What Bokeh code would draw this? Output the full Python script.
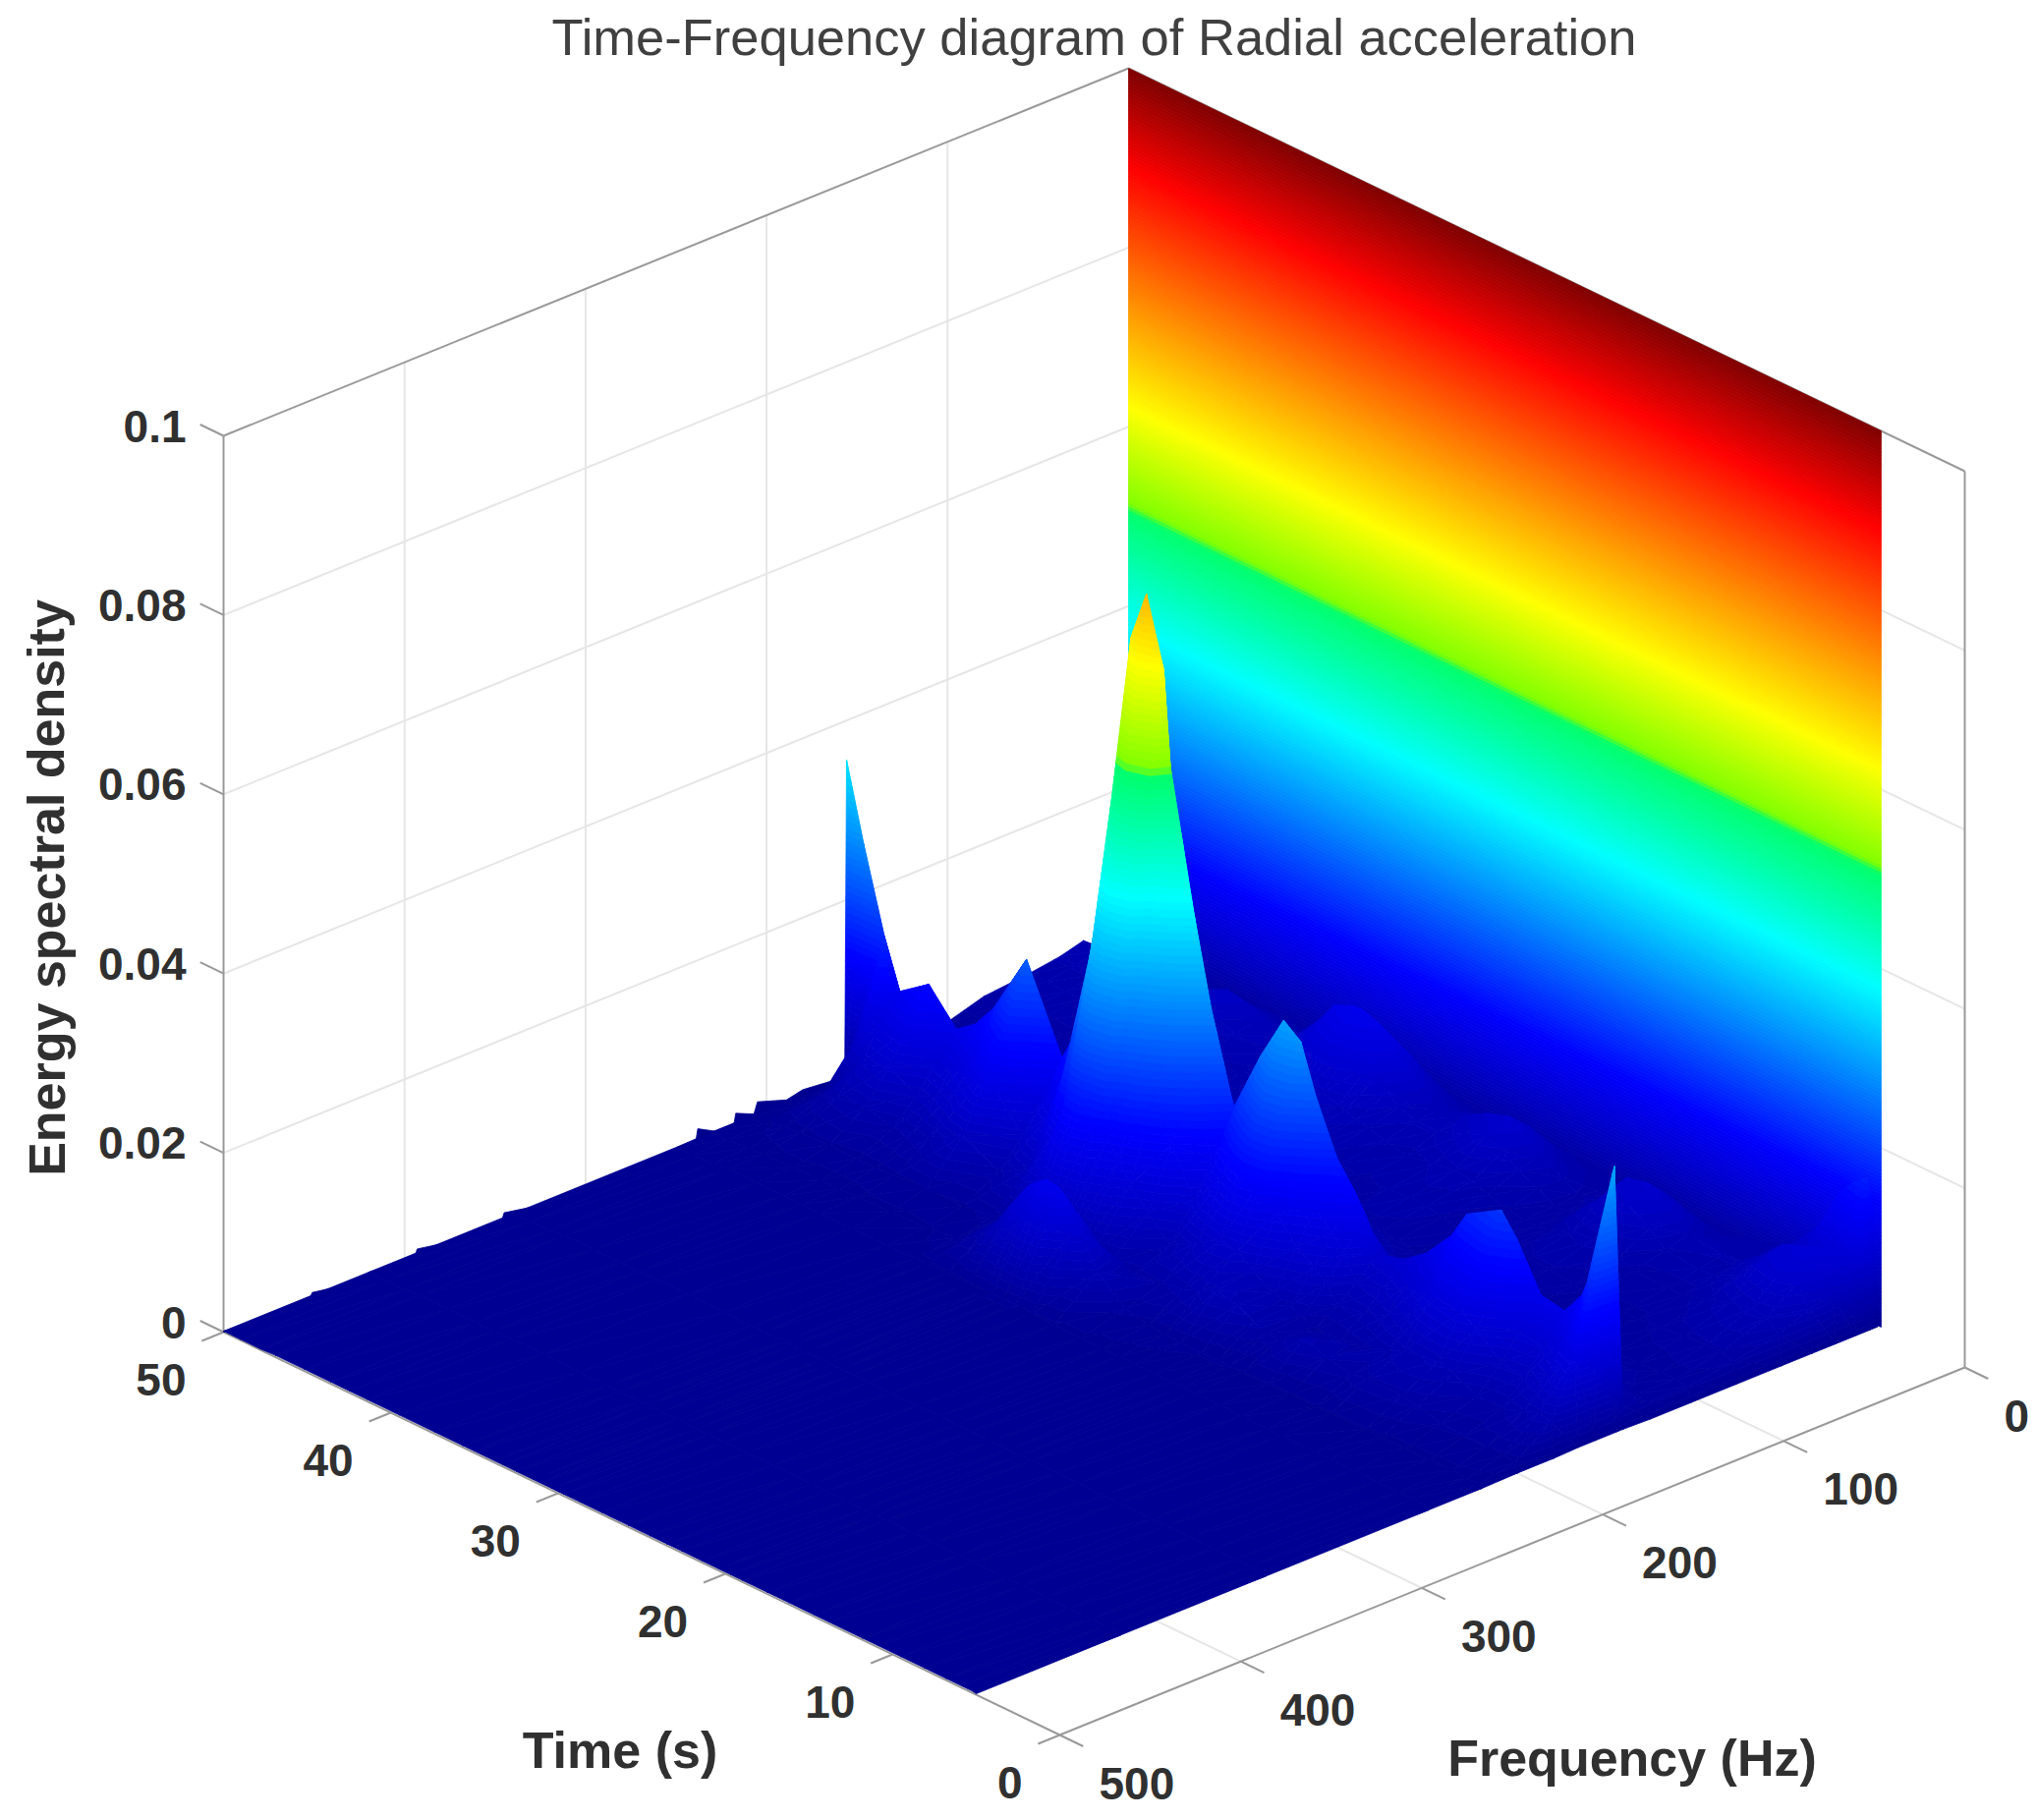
from bokeh.plotting import figure
from bokeh.embed import file_html
from bokeh.resources import INLINE
from bokeh.core.properties import value

TITLE = "Time-Frequency diagram of Radial acceleration"
XLABEL = "Time (s)"
YLABEL = "Frequency (Hz)"
ZLABEL = "Energy spectral density"
time_ticks = [0, 10, 20, 30, 40, 50]
freq_ticks = [0, 100, 200, 300, 400, 500]
energy_ticks = [0, 0.02, 0.04, 0.06, 0.08, 0.1]
energy_tick_labels = ["0", "0.02", "0.04", "0.06", "0.08", "0.1"]

# colour scale read from the wall: fraction of full scale -> RGB
cmap_pos = [0, .14, .378, .45, .505, .515, .622, .89, 1.0]
cmap_rgb = [(0, 0, 143), (0, 0, 255), (0, 255, 255), (0, 255, 170), (0, 255, 110), (130, 255, 0), (255, 255, 0),
            (255, 0, 0), (128, 0, 0)]

# time rows of the surface (s), back to front
t_rows = [50, 49, 47.8, 46.9, 45.2, 43.6, 42.5, 41.4, 39.5, 37.4, 35.7, 35.0, 33.8, 33.3, 32.5, 31.5, 31.1, 30.4, 29.7, 28.7,
          27.4, 25.8, 24.5, 23.5, 22.6, 21.4, 20.4, 19.7, 19, 17.5, 16.2, 14.7, 13.8, 11.8, 10.9, 9.5, 8.1, 6.8, 5.9,
          5.2, 5]
# frequency of the main ridge in each row (Hz)
ridge_f = [155.8, 155.6, 155.3, 155, 154.7, 154.3, 154, 153.8, 153.4, 152.9, 152.5, 152.4, 152.1, 152, 151.8, 151.6, 151.5, 151.4,
           151.2, 151, 150.6, 150.2, 149.9, 149.7, 149.5, 149.2, 149, 148.8, 148.7, 148.3, 148, 147.7, 147.5, 147,
           146.8, 146.5, 146.2, 145.9, 145.7, 145.5, 145.5]
far_f = [500, 420, 340, 250]
ridge_offset = [75, 55, 35, 22, 12, 1, 0, -3, -18]
low_f = [105, 80, 55, 38, 25, 14, 6, 2]

z01 = [.0001,.0001,.0001,.0001,.0002,.0002,.0002,.0002,.0002,.0003,.0356,.0090,.0040,.0015,.0030,.0035,.0040,.0047,.0030,.0030,.0030]
z01a = [.0001,.0001,.0001,.0001,.0002,.0005,.0009,.0012,.0016,.0020,.0271,.0110,.0040,.0016,.0030,.0035,.0040,.0045,.0030,.0030,.0030]
z01b = [.0001,.0002,.0002,.0003,.0004,.0011,.0028,.0035,.0085,.0170,.0179,.0105,.0035,.0018,.0030,.0035,.0040,.0042,.0030,.0030,.0030]
z02 = [.0002,.0003,.0004,.0005,.0005,.0012,.0035,.0062,.0092,.0124,.0125,.0100,.0030,.0020,.0030,.0035,.0040,.0040,.0030,.0030,.0030]
z03 = [.0002,.0003,.0004,.0005,.0005,.0014,.0040,.0074,.0107,.0146,.0148,.0120,.0035,.0020,.0030,.0035,.0040,.0040,.0030,.0030,.0030]
z04 = [.0002,.0003,.0004,.0005,.0005,.0012,.0030,.0056,.0081,.0111,.0112,.0090,.0030,.0020,.0030,.0040,.0045,.0050,.0035,.0030,.0030]
z05 = [.0002,.0003,.0004,.0005,.0005,.0012,.0034,.0064,.0092,.0126,.0127,.0100,.0030,.0022,.0032,.0040,.0050,.0060,.0040,.0030,.0030]
z06 = [.0002,.0004,.0005,.0005,.0006,.0013,.0040,.0078,.0112,.0153,.0155,.0125,.0035,.0025,.0035,.0045,.0060,.0070,.0045,.0032,.0030]
z07 = [.0002,.0004,.0005,.0005,.0006,.0016,.0058,.0113,.0163,.0223,.0226,.0180,.0050,.0025,.0032,.0040,.0048,.0055,.0040,.0032,.0030]
z08 = [.0002,.0003,.0004,.0005,.0007,.0014,.0036,.0067,.0096,.0132,.0133,.0105,.0035,.0025,.0030,.0035,.0045,.0050,.0040,.0030,.0030]
z09 = [.0002,.0003,.0004,.0006,.0010,.0018,.0055,.0105,.0151,.0207,.0210,.0170,.0050,.0030,.0035,.0045,.0075,.0090,.0065,.0040,.0030]
z10 = [.0002,.0003,.0004,.0006,.0018,.0024,.0080,.0157,.0226,.0310,.0314,.0250,.0070,.0035,.0040,.0055,.0090,.0110,.0075,.0045,.0035]
z11 = [.0002,.0003,.0004,.0006,.0040,.0032,.0125,.0245,.0353,.0485,.0490,.0400,.0100,.0035,.0045,.0060,.0100,.0120,.0085,.0050,.0035]
z12 = [.0002,.0003,.0004,.0006,.0050,.0038,.0165,.0322,.0463,.0640,.0643,.0520,.0130,.0035,.0045,.0060,.0100,.0120,.0085,.0050,.0035]
z13 = [.0002,.0003,.0004,.0006,.0075,.0040,.0175,.0348,.0500,.0690,.0695,.0570,.0150,.0035,.0045,.0060,.0095,.0115,.0080,.0050,.0035]
z14 = [.0002,.0003,.0004,.0007,.0105,.0038,.0155,.0310,.0446,.0612,.0620,.0510,.0130,.0035,.0042,.0055,.0085,.0100,.0075,.0045,.0035]
z15 = [.0002,.0003,.0004,.0008,.0112,.0036,.0130,.0257,.0370,.0507,.0514,.0420,.0110,.0035,.0042,.0052,.0075,.0090,.0068,.0042,.0035]
z16 = [.0002,.0003,.0004,.0008,.0122,.0034,.0110,.0219,.0315,.0432,.0438,.0360,.0095,.0032,.0040,.0048,.0065,.0075,.0055,.0040,.0032]
z17 = [.0002,.0003,.0004,.0008,.0120,.0032,.0090,.0180,.0260,.0355,.0360,.0295,.0080,.0030,.0038,.0045,.0055,.0060,.0048,.0035,.0030]
z18 = [.0002,.0003,.0004,.0007,.0085,.0030,.0066,.0132,.0190,.0260,.0264,.0215,.0060,.0030,.0035,.0040,.0048,.0050,.0040,.0030,.0030]
z19 = [.0002,.0003,.0004,.0006,.0045,.0028,.0042,.0083,.0120,.0164,.0166,.0135,.0040,.0025,.0030,.0035,.0048,.0055,.0045,.0032,.0030]
z20 = [.0002,.0003,.0004,.0006,.0018,.0030,.0060,.0120,.0173,.0237,.0240,.0195,.0055,.0030,.0032,.0040,.0060,.0072,.0055,.0038,.0030]
z21 = [.0002,.0003,.0004,.0006,.0012,.0035,.0073,.0145,.0209,.0286,.0290,.0235,.0065,.0030,.0035,.0045,.0070,.0080,.0060,.0040,.0030]
z22 = [.0002,.0003,.0004,.0006,.0010,.0042,.0070,.0138,.0198,.0271,.0275,.0225,.0060,.0028,.0035,.0042,.0060,.0070,.0052,.0035,.0030]
z23 = [.0002,.0003,.0004,.0006,.0009,.0050,.0056,.0110,.0158,.0217,.0220,.0180,.0050,.0025,.0030,.0035,.0048,.0055,.0040,.0030,.0030]
z24 = [.0002,.0003,.0004,.0006,.0008,.0045,.0042,.0082,.0118,.0162,.0164,.0135,.0040,.0022,.0026,.0030,.0038,.0040,.0032,.0028,.0028]
z25 = [.0002,.0003,.0004,.0006,.0008,.0035,.0036,.0069,.0099,.0135,.0137,.0110,.0035,.0020,.0025,.0026,.0028,.0030,.0025,.0025,.0025]
z26 = [.0002,.0003,.0004,.0006,.0008,.0028,.0030,.0057,.0082,.0112,.0114,.0095,.0030,.0020,.0025,.0026,.0028,.0032,.0026,.0025,.0025]
z27 = [.0002,.0003,.0004,.0006,.0007,.0028,.0022,.0039,.0055,.0076,.0077,.0065,.0025,.0020,.0025,.0028,.0032,.0035,.0028,.0025,.0025]
z28 = [.0002,.0003,.0004,.0006,.0007,.0042,.0025,.0043,.0061,.0084,.0085,.0070,.0028,.0022,.0030,.0040,.0065,.0075,.0055,.0035,.0028]
z29 = [.0002,.0003,.0004,.0005,.0007,.0032,.0028,.0052,.0074,.0102,.0103,.0085,.0030,.0022,.0030,.0042,.0070,.0080,.0058,.0035,.0028]
z30 = [.0002,.0003,.0004,.0005,.0007,.0026,.0036,.0068,.0098,.0134,.0136,.0110,.0035,.0020,.0026,.0036,.0055,.0062,.0047,.0030,.0028]
z31 = [.0002,.0003,.0004,.0005,.0007,.0030,.0044,.0084,.0121,.0166,.0168,.0135,.0035,.0018,.0022,.0028,.0038,.0045,.0035,.0028,.0028]
z32 = [.0002,.0003,.0004,.0005,.0007,.0028,.0050,.0095,.0137,.0187,.0190,.0150,.0035,.0018,.0022,.0028,.0035,.0040,.0035,.0035,.0035]
z33 = [.0002,.0003,.0004,.0005,.0006,.0025,.0044,.0083,.0120,.0164,.0166,.0135,.0035,.0018,.0022,.0028,.0035,.0040,.0035,.0040,.0040]
z34 = [.0002,.0003,.0004,.0005,.0006,.0018,.0032,.0058,.0084,.0115,.0116,.0095,.0030,.0018,.0025,.0035,.0050,.0060,.0050,.0060,.0060]
z35 = [.0002,.0003,.0004,.0005,.0006,.0016,.0030,.0055,.0079,.0109,.0110,.0085,.0030,.0018,.0028,.0045,.0075,.0085,.0070,.0090,.0080]
z36 = [.0002,.0003,.0004,.0005,.0006,.0016,.0038,.0072,.0104,.0142,.0144,.0060,.0025,.0020,.0030,.0050,.0080,.0090,.0085,.0140,.0120]
z37 = [.0002,.0003,.0004,.0005,.0005,.0014,.0045,.0090,.0140,.0198,.0200,.0040,.0022,.0020,.0030,.0048,.0072,.0080,.0090,.0160,.0130]
z38 = [.0002,.0003,.0004,.0004,.0004,.0012,.0040,.0100,.0180,.0290,.0297,.0030,.0018,.0018,.0025,.0035,.0050,.0055,.0075,.0170,.0130]
z39 = [.0001,.0001,.0001,.0001,.0001,.0002,.0002,.0003,.0003,.0003,.0003,.0003,.0002,.0002,.0002,.0002,.0002,.0002,.0002,.0002,.0002]
z_rows = [z01, z01a, z01b, z02, z03, z04, z05, z06, z07, z08, z09, z10, z11, z12, z13, z14, z15, z16, z17, z18, z19, z20, z21,
          z22, z23, z24, z25, z26, z27, z28, z29, z30, z31, z32, z33, z34, z35, z36, z37, z38, z39]

# small steps along the back edge of the surface (f in Hz, energy)
edge_f = [500, 452, 451, 440, 394, 393, 380, 346, 345, 330, 297, 254, 239, 238, 228, 218, 217, 207, 205, 189, 180, 156]
edge_z = [0, 0, .0004, 0, 0, .0005, 0, 0, .0006, 0, 0, 0, 0, .0012, .0001, .0001, .0012, .0003, .0015, .0004, .0008, .0003]

# 3D view (orthographic), expressed on the page
ORIGIN = (1078.0, 1765.0)
T_VEC = (-851.0, -410.0)
F_VEC = (921.0, -374.0)
Z_LEN = 912.0
T_MAX, F_MAX, Z_MAX = 50.0, 500.0, 0.1
WALL_T0 = 5.0


def proj(t, f, z):
    u, v = t / T_MAX, (F_MAX - f) / F_MAX
    return (ORIGIN[0] + T_VEC[0] * u + F_VEC[0] * v,
            ORIGIN[1] + T_VEC[1] * u + F_VEC[1] * v - Z_LEN * z / Z_MAX)


def colour(z):
    a = max(0.0, min(1.0, z / Z_MAX))
    for i in range(len(cmap_pos) - 1):
        if a <= cmap_pos[i + 1]:
            s = (a - cmap_pos[i]) / (cmap_pos[i + 1] - cmap_pos[i])
            c0, c1 = cmap_rgb[i], cmap_rgb[i + 1]
            return "#%02x%02x%02x" % tuple(int(c0[n] + s * (c1[n] - c0[n])) for n in range(3))
    return "#800000"


p = figure(width=2070, height=1845, x_range=(0, 2070), y_range=(1845, 0), toolbar_location=None,
           output_backend="svg", min_border=0)
p.axis.visible = False
p.grid.visible = False
p.outline_line_color = None

# grid
gx, gy = [], []


def grid(a, b):
    x0, y0 = proj(*a)
    x1, y1 = proj(*b)
    gx.append([x0, x1])
    gy.append([y0, y1])


for f in freq_ticks[1:-1]:
    grid((50, f, 0), (50, f, Z_MAX))
    grid((0, f, 0), (50, f, 0))
for t in time_ticks[1:-1]:
    grid((t, 0, 0), (t, 0, Z_MAX))
    grid((t, 0, 0), (t, 500, 0))
for z in energy_ticks[1:-1]:
    grid((50, 500, z), (50, 0, z))
    grid((50, 0, z), (0, 0, z))
p.multi_line(gx, gy, line_color="#e6e6e6", line_width=2)

# box and ticks
bx, by = [], []


def box(a, b):
    x0, y0 = proj(*a)
    x1, y1 = proj(*b)
    bx.append([x0, x1])
    by.append([y0, y1])


box((50, 500, 0), (50, 500, Z_MAX))
box((50, 500, Z_MAX), (50, 0, Z_MAX))
box((50, 0, Z_MAX), (0, 0, Z_MAX))
box((0, 0, Z_MAX), (0, 0, 0))
box((50, 500, 0), (0, 500, 0))
box((0, 500, 0), (0, 0, 0))
TL_T, TL_F = 1.4, 12.0
for t in time_ticks:
    box((t, 500, 0), (t, 500 + TL_F, 0))
for f in freq_ticks:
    box((0, f, 0), (-TL_T, f, 0))
for z in energy_ticks:
    box((50, 500, z), (50 + TL_T, 500, z))
p.multi_line(bx, by, line_color="#999999", line_width=2)

# wall at f = 0
xs, ys, cs = [], [], []
N_WALL = 256
for k in range(N_WALL):
    lo, hi = Z_MAX * k / N_WALL, Z_MAX * (k + 1) / N_WALL
    c = [proj(50, 0, lo), proj(WALL_T0, 0, lo), proj(WALL_T0, 0, hi), proj(50, 0, hi)]
    xs.append([q[0] for q in c])
    ys.append([q[1] for q in c])
    cs.append(colour((lo + hi) / 2))

# back edge steps
edge = [proj(50, f, z) for f, z in zip(edge_f, edge_z)] + [proj(50, 156, 0), proj(50, 500, 0)]
xs.append([q[0] for q in edge])
ys.append([q[1] for q in edge])
cs.append(colour(0))

# surface: each triangle filled in bands of equal energy (interpolated shading)
DZ = Z_MAX / 128


def clip(poly, lo, hi):
    def one(pts, keep, level):
        out = []
        for i in range(len(pts)):
            a, b = pts[i], pts[(i + 1) % len(pts)]
            ka, kb = keep(a[2]), keep(b[2])
            if ka:
                out.append(a)
            if ka != kb:
                s = (level - a[2]) / (b[2] - a[2])
                out.append(tuple(a[n] + s * (b[n] - a[n]) for n in range(3)))
        return out

    res = one(poly, lambda z: z >= lo, lo)
    if res:
        res = one(res, lambda z: z <= hi, hi)
    return res


def add_tri(tri):
    zs = [q[2] for q in tri]
    k0, k1 = int(min(zs) / DZ), int(max(zs) / DZ)
    for k in range(k0, k1 + 1):
        poly = clip(tri, k * DZ, (k + 1) * DZ)
        if len(poly) >= 3:
            sc = [proj(*q) for q in poly]
            xs.append([q[0] for q in sc])
            ys.append([q[1] for q in sc])
            cs.append(colour((k + 0.5) * DZ))


def col_f(i):
    return far_f + [ridge_f[i] + o for o in ridge_offset] + low_f


for i in range(len(t_rows) - 1):
    fa, fb = col_f(i), col_f(i + 1)
    for j in range(len(fa) - 2, -1, -1):
        back = (t_rows[i], fa[j + 1], z_rows[i][j + 1])
        a = (t_rows[i], fa[j], z_rows[i][j])
        b = (t_rows[i + 1], fb[j + 1], z_rows[i + 1][j + 1])
        front = (t_rows[i + 1], fb[j], z_rows[i + 1][j])
        add_tri((back, a, b))
        add_tri((front, a, b))

p.patches(xs, ys, fill_color=cs, line_color=cs, line_width=0.8)

# texts
FONT = value("Liberation Sans")
INK = "#303030"
TICK = "46px"
LAB = "52px"


def label(x, y, s, size, bold=True, align="center", angle=0.0, color=INK):
    p.text([x], [y], text=[s], text_font=FONT, text_font_size=size, text_color=color,
           text_font_style="bold" if bold else "normal", text_align=align, text_baseline="middle", angle=angle)


for t in time_ticks:
    x, y = proj(t, 500, 0)
    label(x - 38, y + 48, str(t), TICK, align="right")
for f in freq_ticks:
    x, y = proj(0, f, 0)
    label(x + 40, y + 49, str(f), TICK, align="left")
for z, s in zip(energy_ticks, energy_tick_labels):
    x, y = proj(50, 500, z)
    label(x - 38, y - 10, s, TICK, align="right")

mx, my = proj(25, 500, 0)
label(mx - 22, my + 220, XLABEL, LAB)
mx, my = proj(0, 250, 0)
label(mx + 122, my + 210, YLABEL, LAB)
mx, my = proj(50, 500, 0.05)
label(mx - 180, my + 4, ZLABEL, LAB, angle=1.5708)
label(1113, 37, TITLE, "52.5px", bold=False, color="#404040")

open("out.html", "w").write(file_html(p, INLINE))
